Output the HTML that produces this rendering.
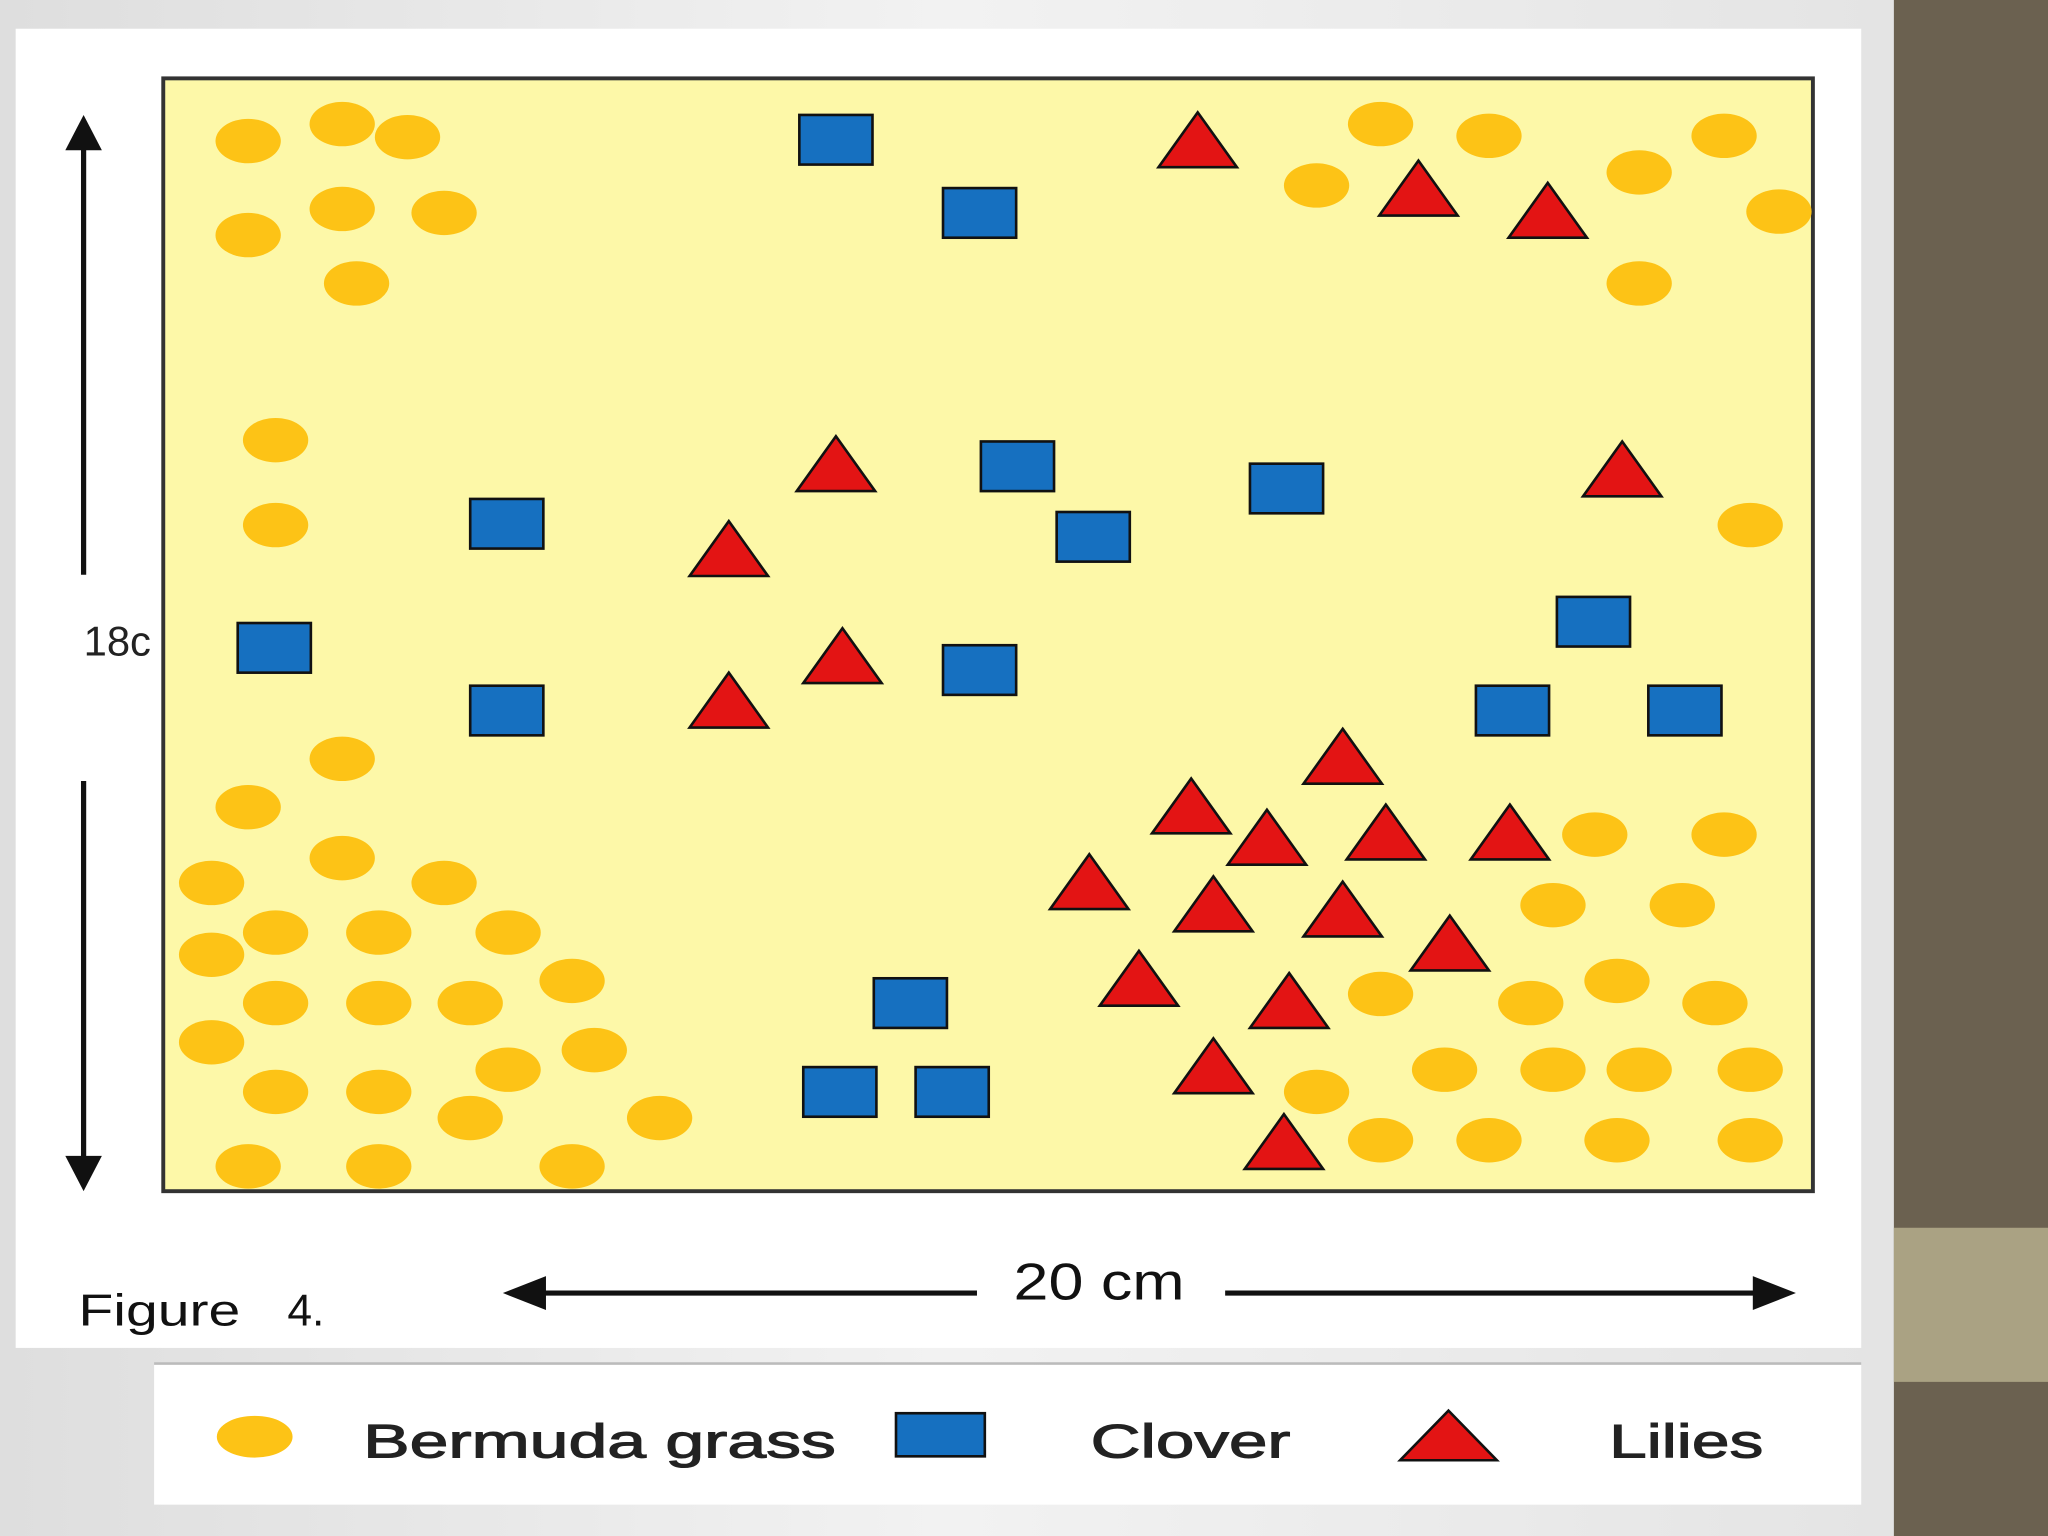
<!DOCTYPE html>
<html><head><meta charset="utf-8"><style>
html,body{margin:0;padding:0;width:2048px;height:1536px;overflow:hidden;background:#e6e6e6}
svg{display:block}
text{font-family:"Liberation Sans",sans-serif}
</style></head><body>
<svg width="2048" height="1536" viewBox="0 0 1568 1176" preserveAspectRatio="none" xmlns="http://www.w3.org/2000/svg">
<defs>
<linearGradient id="bg" x1="0" x2="1" y1="0" y2="0"><stop offset="0" stop-color="#dedede"/><stop offset="0.5" stop-color="#f2f2f2"/><stop offset="1" stop-color="#e4e4e4"/></linearGradient>
<g id="c"><ellipse cx="0" cy="0" rx="25" ry="17" fill="#fdc316"/></g>
<g id="s"><rect x="-28" y="-19" width="56" height="38" fill="#1670c0" stroke="#111" stroke-width="2"/></g>
<g id="t"><polygon points="0,-42 30,0 -30,0" fill="#e31414" stroke="#111" stroke-width="2"/></g>
</defs>
<rect width="1450" height="1176" fill="url(#bg)"/>
<rect x="1450" y="0" width="118" height="1176" fill="#6b6150"/>
<rect x="1450" y="940" width="118" height="118" fill="#aaa283"/>
<rect x="12" y="22" width="1413" height="1010" fill="#fff"/>
<rect x="125" y="60" width="1263" height="852" fill="#fdf8a8" stroke="#333" stroke-width="3"/>
<g>
<use href="#c" x="190" y="108"/><use href="#c" x="262" y="95"/><use href="#c" x="312" y="105"/><use href="#c" x="190" y="180"/><use href="#c" x="262" y="160"/><use href="#c" x="340" y="163"/><use href="#c" x="273" y="217"/>
<use href="#c" x="1057" y="95"/><use href="#c" x="1140" y="104"/><use href="#c" x="1320" y="104"/><use href="#c" x="1008" y="142"/><use href="#c" x="1255" y="132"/><use href="#c" x="1362" y="162"/><use href="#c" x="1255" y="217"/>
<use href="#c" x="211" y="337"/><use href="#c" x="211" y="402"/><use href="#c" x="1340" y="402"/>
<use href="#c" x="262" y="581"/><use href="#c" x="190" y="618"/><use href="#c" x="262" y="657"/><use href="#c" x="162" y="676"/><use href="#c" x="340" y="676"/><use href="#c" x="211" y="714"/><use href="#c" x="290" y="714"/><use href="#c" x="389" y="714"/><use href="#c" x="162" y="731"/><use href="#c" x="438" y="751"/><use href="#c" x="211" y="768"/><use href="#c" x="290" y="768"/><use href="#c" x="360" y="768"/><use href="#c" x="162" y="798"/><use href="#c" x="455" y="804"/><use href="#c" x="389" y="819"/><use href="#c" x="211" y="836"/><use href="#c" x="290" y="836"/><use href="#c" x="360" y="856"/><use href="#c" x="505" y="856"/><use href="#c" x="190" y="893"/><use href="#c" x="290" y="893"/><use href="#c" x="438" y="893"/>
<use href="#c" x="1221" y="639"/><use href="#c" x="1320" y="639"/><use href="#c" x="1189" y="693"/><use href="#c" x="1288" y="693"/><use href="#c" x="1057" y="761"/><use href="#c" x="1172" y="768"/><use href="#c" x="1238" y="751"/><use href="#c" x="1313" y="768"/><use href="#c" x="1106" y="819"/><use href="#c" x="1189" y="819"/><use href="#c" x="1255" y="819"/><use href="#c" x="1340" y="819"/><use href="#c" x="1008" y="836"/><use href="#c" x="1057" y="873"/><use href="#c" x="1140" y="873"/><use href="#c" x="1238" y="873"/><use href="#c" x="1340" y="873"/>
</g>
<g>
<use href="#s" x="640" y="107"/><use href="#s" x="750" y="163"/><use href="#s" x="779" y="357"/><use href="#s" x="388" y="401"/><use href="#s" x="837" y="411"/><use href="#s" x="985" y="374"/><use href="#s" x="210" y="496"/><use href="#s" x="750" y="513"/><use href="#s" x="1220" y="476"/><use href="#s" x="388" y="544"/><use href="#s" x="1158" y="544"/><use href="#s" x="1290" y="544"/><use href="#s" x="697" y="768"/><use href="#s" x="643" y="836"/><use href="#s" x="729" y="836"/>
</g>
<g>
<use href="#t" x="917" y="128"/><use href="#t" x="1086" y="165"/><use href="#t" x="1185" y="182"/><use href="#t" x="640" y="376"/><use href="#t" x="1242" y="380"/><use href="#t" x="558" y="441"/><use href="#t" x="645" y="523"/><use href="#t" x="558" y="557"/><use href="#t" x="1028" y="600"/><use href="#t" x="912" y="638"/><use href="#t" x="970" y="662"/><use href="#t" x="1061" y="658"/><use href="#t" x="1156" y="658"/><use href="#t" x="834" y="696"/><use href="#t" x="929" y="713"/><use href="#t" x="1028" y="717"/><use href="#t" x="1110" y="743"/><use href="#t" x="872" y="770"/><use href="#t" x="987" y="787"/><use href="#t" x="929" y="837"/><use href="#t" x="983" y="895"/>
</g>
<g stroke="#111" stroke-width="4" fill="#111">
<line x1="64" y1="105" x2="64" y2="440"/><polygon points="64,88 50,115 78,115" stroke="none"/>
<line x1="64" y1="598" x2="64" y2="890"/><polygon points="64,912 50,885 78,885" stroke="none"/>
<line x1="405" y1="990" x2="748" y2="990"/><polygon points="385,990 418,977 418,1003" stroke="none"/>
<line x1="938" y1="990" x2="1350" y2="990"/><polygon points="1375,990 1342,977 1342,1003" stroke="none"/>
</g>
<text x="64" y="502" font-size="32" fill="#222">18c</text>
<text x="776" y="995" font-size="40" fill="#111" textLength="131" lengthAdjust="spacingAndGlyphs">20 cm</text>
<text x="60" y="1015" font-size="34" fill="#111" textLength="124" lengthAdjust="spacingAndGlyphs">Figure</text>
<text x="220" y="1015" font-size="34" fill="#111">4.</text>
<line x1="118" y1="1044" x2="1425" y2="1044" stroke="#bbb" stroke-width="2"/>
<rect x="118" y="1045" width="1307" height="107" fill="#fff"/>
<ellipse cx="195" cy="1100" rx="29" ry="16" fill="#fdc316"/>
<text x="278" y="1116" font-size="36" fill="#222" stroke="#222" stroke-width="0.8" textLength="362" lengthAdjust="spacingAndGlyphs">Bermuda grass</text>
<rect x="686" y="1082" width="68" height="33" fill="#1670c0" stroke="#111" stroke-width="2"/>
<text x="835" y="1116" font-size="36" fill="#222" stroke="#222" stroke-width="0.8" textLength="153" lengthAdjust="spacingAndGlyphs">Clover</text>
<polygon points="1109,1080 1146,1118 1072,1118" fill="#e31414" stroke="#111" stroke-width="2"/>
<text x="1232" y="1116" font-size="36" fill="#222" stroke="#222" stroke-width="0.8" textLength="118" lengthAdjust="spacingAndGlyphs">Lilies</text>
</svg>
</body></html>
